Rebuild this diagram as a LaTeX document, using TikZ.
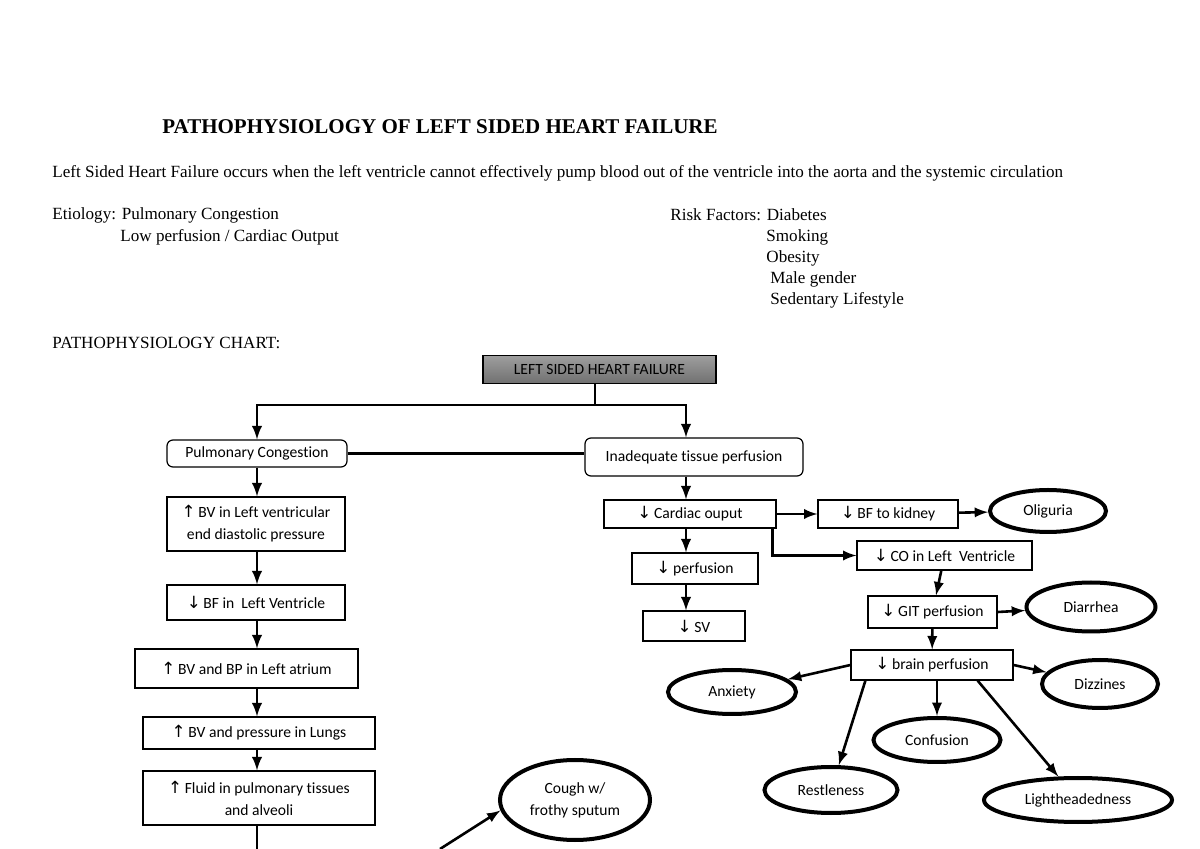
\documentclass[tikz,border=0pt]{standalone}
\usepackage{fontspec}
\usepackage{tikz}
\usetikzlibrary{shapes.geometric}
\setmainfont{Liberation Serif}
\newfontfamily\chartfont[Ligatures=NoCommon]{Carlito}
\newfontfamily\arrowfont{DejaVu Sans}
\newcommand{\upar}{{\arrowfont\fontsize{8.4}{8}\selectfont ↑}\,}
\newcommand{\dnar}{{\arrowfont\fontsize{8.4}{8}\selectfont ↓}\,}

\begin{document}
\begin{tikzpicture}
  [x=0.5pt, y=-0.5pt, >=latex,
   txt/.style={anchor=west, inner sep=0pt, font=\fontsize{8.55}{10}\selectfont},
   box/.style={draw, line width=0.6pt, align=center, inner sep=1pt,
     font=\chartfont\fontsize{7.8}{11}\selectfont},
   oval/.style={ellipse, draw, line width=2pt, inner sep=0pt, align=center,
     font=\chartfont\fontsize{7.8}{11}\selectfont},
   link/.style={line width=1.3pt}]
    \useasboundingbox (0,0) rectangle (1200,849);
    % heading and notes
    \node[txt, font=\bfseries\fontsize{10.5}{12}\selectfont] (title) at (162,127)
      {PATHOPHYSIOLOGY OF LEFT SIDED HEART FAILURE};
    \node[txt] (intro) at (52,173) {Left Sided Heart Failure occurs when the left ventricle cannot effectively pump blood out of the ventricle into the aorta and the systemic circulation};
    \node[txt] (etio) at (52,215) {Etiology: Pulmonary Congestion};
    \node[txt] (etio2) at (120,237) {Low perfusion / Cardiac Output};
    \node[txt] (risk) at (670,215) {Risk Factors: Diabetes};
    \foreach \fac/\x/\y in {Smoking/766/237, Obesity/766/258,
                  Male gender/770/279, Sedentary Lifestyle/770/300}{
      \node[txt] (rf\y) at (\x,\y) {\fac}; }
    \node[txt] (chart) at (52,343) {PATHOPHYSIOLOGY CHART:};
    % boxes
    \node[box, minimum width=116.5pt, minimum height=14pt, top color=black!38,
      bottom color=black!56] (lshf) at (599.5,369.5) {LEFT SIDED HEART FAILURE};
    \node[box, rounded corners=3pt, minimum width=90pt, minimum height=13.5pt]
      (pc) at (257,453.5) {Pulmonary Congestion};
    \node[box, rounded corners=3pt, minimum width=109pt, minimum height=19pt]
      (itp) at (694,457) {Inadequate tissue perfusion};
    \foreach \name/\x/\y/\w/\h/\label in {
        bv/256/524/89/27/{\upar BV in Left ventricular\\end diastolic pressure},
        bf/256/602.5/89/17.5/{\dnar BF in~ Left Ventricle},
        ba/246.5/668.5/111.5/19.5/{\upar BV and BP in Left atrium},
        lungs/259/733/116/16/{\upar BV and pressure in Lungs},
        fluid/259/798/116/27/{\upar Fluid in pulmonary tissues\\and alveoli},
        co/690/514/86/14/{\dnar Cardiac ouput},
        kid/888/514/70/14/{\dnar BF to kidney},
        perf/695/568.5/63/15.5/{\dnar perfusion},
        sv/694/626/51/15/{\dnar SV},
        lv/944.5/555.5/87.5/14.5/{\dnar CO in Left~ Ventricle},
        git/932.5/612/64.5/16/{\dnar GIT perfusion},
        brain/932/665/81/15/{\dnar brain perfusion}}{
      \node[box, minimum width=\w pt, minimum height=\h pt] (\name) at (\x,\y) {\label}; }
    % outcomes
    \foreach \name/\x/\y/\w/\h/\label in {
        olig/1048/511/58/21/Oliguria,
        diar/1091/607/64.5/24.5/Diarrhea,
        dizz/1100/684/58/24/Dizzines,
        anx/732/692/64/22/Anxiety,
        conf/937/740/63.5/22/Confusion,
        rest/831/790/66.5/23/Restleness,
        light/1078/800/94/22/Lightheadedness,
        cough/575/800/75/40/{Cough w/\\frothy sputum}}{
      \node[oval, minimum width=\w pt, minimum height=\h pt] (\name) at (\x,\y) {\label}; }
    \coordinate (split) at (595,405);
    \coordinate (rcol) at (686,405);
    \coordinate (fend) at (257,849);
    \coordinate (cstart) at (440,849);
    % connectors
    \draw[link] (lshf.south -| split) -- (split);
    \draw[link, ->] (split) -| (pc);
    \draw[link, ->] (split) -| (rcol) -- (itp.north -| rcol);
    \draw[link] (pc.east) -- (pc.east -| itp.west);
    \foreach \to/\from in {pc/bv, bv/bf, bf/ba, ba/lungs, lungs/fluid}{
      \draw[link, ->] (\to.south -| pc) -- (\from.north -| pc); }
    \draw[link] (fluid.south -| pc) -- (fend);
    \draw[link, ->] (cstart) -- (cough.188);
    \foreach \to/\from in {itp/co, co/perf, perf/sv}{
      \draw[link, ->] (\to.south -| rcol) -- (\from.north -| rcol); }
    \draw[link, ->] (co) -- (kid);
    \draw[link, ->] (kid) -- (olig);
    \draw[link, ->] ([xshift=-2pt]co.south east) |- (lv.west);
    \draw[link, ->] (lv) -- (git);
    \draw[link, ->] (git) -- (brain);
    \draw[link, ->] (git.east) -- (diar);
    \draw[link, ->] (brain.west) -- (anx);
    \draw[link, ->] (brain.east) -- (dizz);
    \draw[link, ->] (brain.south -| conf) -- (conf);
    \draw[link, ->] ([xshift=7.5pt]brain.south west) -- (rest);
    \draw[link, ->] ([xshift=-18pt]brain.south east) -- (light);
\end{tikzpicture}
\end{document}
